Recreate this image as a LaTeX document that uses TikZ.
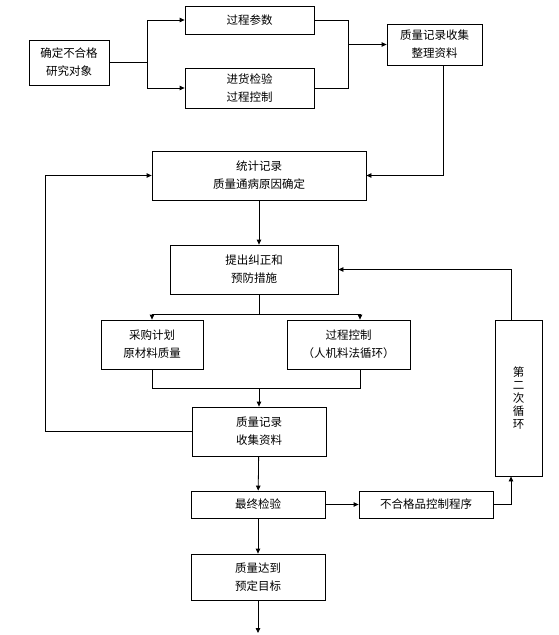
\documentclass[tikz,border=0pt]{standalone}
\usepackage{fontspec}
\setmainfont{Noto Sans CJK SC}
\usetikzlibrary{arrows.meta}

\begin{document}
\begin{tikzpicture}[x=1pt,y=-1pt]
\tikzset{
  flowbox/.style={rectangle,draw=black,line width=0.8pt,inner sep=0pt,align=center,font=\fontsize{11.5}{18}\selectfont},
  flowedge/.style={draw=black,line width=0.8pt,line join=miter},
  directed/.style={flowedge,-{Triangle[length=5pt,width=4.5pt]}},
  undirected/.style={flowedge}
}
\useasboundingbox (0,0) rectangle (559,635);
\node[flowbox,minimum width=80,minimum height=45] (n_obj) at (69,62.5) {确定不合格\\研究对象};
\node[flowbox,minimum width=129,minimum height=28] (n_param) at (249.5,20) {过程参数};
\node[flowbox,minimum width=129,minimum height=40] (n_incoming) at (249.5,88) {进货检验\\过程控制};
\node[flowbox,minimum width=95,minimum height=41] (n_collect) at (434.5,44.5) {质量记录收集\\整理资料};
\node[flowbox,minimum width=214,minimum height=49] (n_stat) at (259,175.5) {统计记录\\质量通病原因确定};
\node[flowbox,minimum width=168,minimum height=49] (n_measure) at (254,269.5) {提出纠正和\\预防措施};
\node[flowbox,minimum width=102,minimum height=49] (n_purchase) at (152,344.5) {采购计划\\原材料质量};
\node[flowbox,minimum width=123,minimum height=49] (n_process) at (348.5,344.5) {过程控制\\（人机料法循环）};
\node[flowbox,minimum width=134,minimum height=49] (n_record) at (259,431.5) {质量记录\\收集资料};
\node[flowbox,minimum width=47,minimum height=156,font=\fontsize{11.5}{13}\selectfont] (n_cycle) at (518.5,398) {第\\二\\次\\循\\环};
\node[flowbox,minimum width=134,minimum height=27] (n_final) at (258,504.5) {最终检验};
\node[flowbox,minimum width=134,minimum height=27] (n_nonconf) at (426,504.5) {不合格品控制程序};
\node[flowbox,minimum width=134,minimum height=46] (n_target) at (258,577) {质量达到\\预定目标};
\coordinate (j_split) at (147,62.5);
\coordinate (j_merge) at (348,44.5);
\coordinate (j_branch) at (259,314);
\coordinate (j_join) at (259,388);
\coordinate (j_left) at (45,431.5);
\coordinate (n_end) at (258,633);
\draw[undirected] (n_obj) -- (j_split);
\draw[directed] (j_split) |- (n_param);
\draw[directed] (j_split) |- (n_incoming);
\draw[undirected] (n_param) -| (j_merge);
\draw[undirected] (n_incoming) -| (j_merge);
\draw[directed] (j_merge) -- (n_collect);
\draw[directed] ([xshift=8.5]n_collect.south) |- (n_stat);
\draw[directed] (n_stat.south) -- (n_stat.south |- n_measure.north);
\draw[undirected] (n_stat.south |- n_measure.south) -- (j_branch);
\draw[directed] (j_branch) -| (n_purchase);
\draw[directed] (j_branch) -| ([xshift=11.5]n_process.north);
\draw[undirected] (n_purchase) |- (j_join);
\draw[undirected] ([xshift=11.5]n_process.south) |- (j_join);
\draw[directed] (j_join) -- (n_record);
\draw[directed] (n_record) -- (j_left) |- (n_stat);
\draw[directed] (n_record) -- (n_final);
\draw[directed] (n_final) -- (n_nonconf);
\draw[directed] (n_nonconf) -| ([xshift=-7.5]n_cycle.south);
\draw[directed] ([xshift=-7.5]n_cycle.north) |- (n_measure);
\draw[directed] (n_target) -- (n_end);
\draw[directed] (n_final) -- (n_target);
\end{tikzpicture}
\end{document}
